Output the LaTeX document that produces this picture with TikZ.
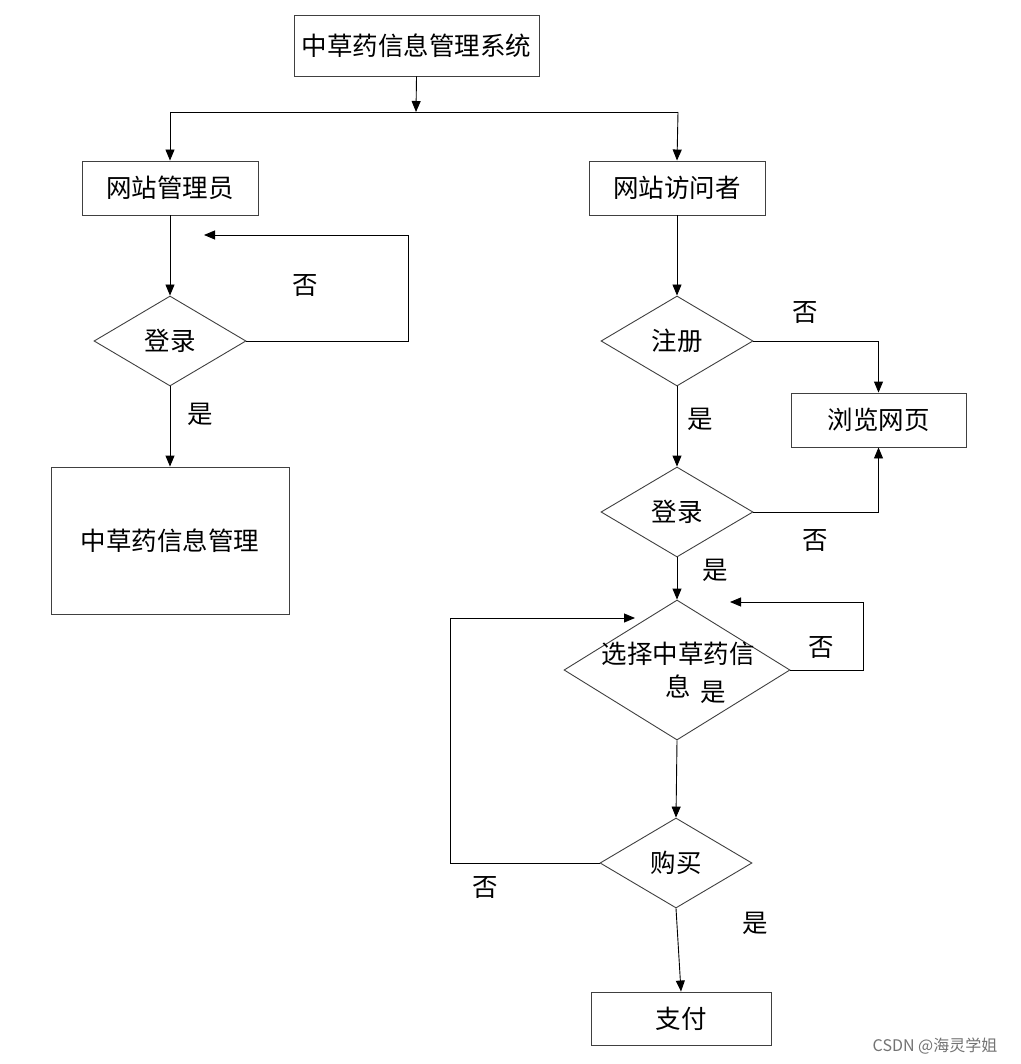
\documentclass[tikz,border=0pt]{standalone}
\usepackage{fontspec}
\setmainfont{Noto Sans CJK SC}
\usetikzlibrary{shapes.geometric,arrows.meta}
\begin{document}
\begin{tikzpicture}[x=1pt,y=-1pt,
  every node/.style={font=\fontsize{25.5}{32}\selectfont},
  box/.style={draw=black!75,line width=0.9pt,rectangle,inner sep=0pt},
  dia/.style={draw=black!75,line width=0.9pt,diamond,inner sep=0pt,minimum width=152pt,minimum height=90pt},
  lab/.style={inner sep=0pt},
  arr/.style={line width=0.9pt,-{Triangle[length=11pt,width=9pt]}},
  ln/.style={line width=0.9pt}]
\useasboundingbox[fill=white] (0,0) rectangle (1020,1064);
% boxes
\node[box,minimum width=245pt,minimum height=61pt] (sys) at (416.5,45.5) {中草药信息管理系统};
\node[box,minimum width=176pt,minimum height=54pt] (adm) at (170,188) {网站管理员};
\node[box,minimum width=176pt,minimum height=54pt] (vis) at (677,188) {网站访问者};
\node[dia] (log1) at (170,341) {登录};
\node[box,minimum width=238pt,minimum height=147pt] (mgr) at (170,540.5) {中草药信息管理};
\node[dia] (reg) at (677,341) {注册};
\node[box,minimum width=175pt,minimum height=54pt] (brw) at (878.5,420) {浏览网页};
\node[dia] (log2) at (677,512) {登录};
\node[dia,minimum width=226pt,minimum height=140pt] (sel) at (677,670) {};
\node[lab,align=center] (selt) at (678,670) {选择中草药信\\[1pt]息};
\node[dia] (buy) at (676,863) {购买};
\node[box,minimum width=180pt,minimum height=53pt] (pay) at (681,1018.5) {支付};
% labels
\node[lab] (n1) at (305,286) {否};
\node[lab] (y1) at (200,414) {是};
\node[lab] (n2) at (805,313) {否};
\node[lab] (y2) at (700,419) {是};
\node[lab] (n3) at (815,541) {否};
\node[lab] (y3) at (715,570) {是};
\node[lab] (n4) at (821,648) {否};
\node[lab] (y4) at (713,692) {是};
\node[lab] (n5) at (485,888) {否};
\node[lab] (y5) at (755,923) {是};
\node[lab,text=black!55,font=\fontsize{16}{20}\selectfont] (wm) at (935,1046) {CSDN @海灵学姐};
% coordinates
\coordinate (j) at (416,112);
\coordinate (jl) at (170,112);
\coordinate (jr) at (678,112);
\coordinate (l1) at (408,235);
\coordinate (la) at (204,235);
\coordinate (sl) at (863,602);
\coordinate (sa) at (730,602);
\coordinate (bl) at (450,618);
\coordinate (ba) at (635,618);
% connectors
\draw[arr] (sys.south) -- (j);
\draw[ln] (jl) -- (jr);
\draw[arr] (jl) -- (adm.north);
\draw[arr] (jr) -- (vis.north);
\draw[arr] (adm.south) -- (log1.north);
\draw[arr] (log1.east) -| (l1) -- (la);
\draw[arr] (log1.south) -- (mgr.north);
\draw[arr] (vis.south) -- (reg.north);
\draw[arr] (reg.east) -| (brw.north);
\draw[arr] (reg.south) -- (log2.north);
\draw[arr] (log2.east) -| (brw.south);
\draw[arr] (log2.south) -- (sel.north);
\draw[arr] (sel.east) -| (sl) -- (sa);
\draw[arr] (sel.south) -- (buy.north);
\draw[arr] (buy.west) -| (bl) -- (ba);
\draw[arr] (buy.south) -- (pay.north);
\end{tikzpicture}
\end{document}
